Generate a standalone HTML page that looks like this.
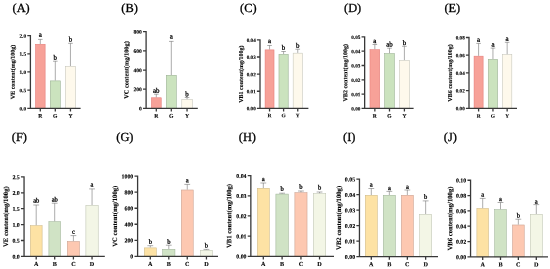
<!DOCTYPE html>
<html><head><meta charset="utf-8"><title>Figure</title>
<style>
html,body{margin:0;padding:0;background:#fff}
svg{display:block}
text{font-family:"Liberation Serif","Times New Roman",serif;fill:#000;text-rendering:geometricPrecision}
.b{font-weight:bold;stroke:#000;stroke-width:0.12px}
.p{stroke:#000;stroke-width:0.3px}
.l{stroke:#000;stroke-width:0.28px}
</style></head>
<body>
<svg width="550" height="269" viewBox="0 0 550 269">
<rect width="550" height="269" fill="#fff"/>
<g id="chartA">
<text class="p" x="12.5" y="12.00" transform="rotate(0.05 12.5 12.00)" font-size="12.4">(A)</text>
<path d="M40.30 44.00V39.40M38.00 39.40H42.60" stroke="#666" stroke-width="0.55" fill="none"/>
<rect x="35.48" y="44.27" width="9.65" height="64.02" fill="#F7A198" stroke="#E47A78" stroke-width="0.55"/>
<text class="l" x="40.30" y="36.80" transform="rotate(0.05 40.30 36.80)" font-size="6.9" text-anchor="middle">a</text>
<path d="M55.30 80.60V61.20M53.00 61.20H57.60" stroke="#666" stroke-width="0.55" fill="none"/>
<rect x="50.27" y="80.88" width="10.05" height="27.43" fill="#CBE3BE" stroke="#98AE92" stroke-width="0.55"/>
<text class="l" x="55.30" y="59.80" transform="rotate(0.05 55.30 59.80)" font-size="6.9" text-anchor="middle">b</text>
<path d="M70.45 66.00V43.30M68.15 43.30H72.75" stroke="#666" stroke-width="0.55" fill="none"/>
<rect x="65.38" y="66.28" width="10.15" height="42.02" fill="#FEF9EC" stroke="#C4C4B8" stroke-width="0.55"/>
<text class="l" x="70.45" y="41.60" transform="rotate(0.05 70.45 41.60)" font-size="6.9" text-anchor="middle">b</text>
<text class="b" x="26.10" y="110.40" transform="rotate(0.05 26.10 110.40)" font-size="5.3" text-anchor="end">0.0</text>
<text class="b" x="26.10" y="92.22" transform="rotate(0.05 26.10 92.22)" font-size="5.3" text-anchor="end">0.5</text>
<text class="b" x="26.10" y="74.05" transform="rotate(0.05 26.10 74.05)" font-size="5.3" text-anchor="end">1.0</text>
<text class="b" x="26.10" y="55.87" transform="rotate(0.05 26.10 55.87)" font-size="5.3" text-anchor="end">1.5</text>
<text class="b" x="26.10" y="37.70" transform="rotate(0.05 26.10 37.70)" font-size="5.3" text-anchor="end">2.0</text>
<text class="b" x="40.30" y="117.80" transform="rotate(0.05 40.30 117.80)" font-size="5.6" text-anchor="middle">R</text>
<text class="b" x="55.30" y="117.80" transform="rotate(0.05 55.30 117.80)" font-size="5.6" text-anchor="middle">G</text>
<text class="b" x="70.45" y="117.80" transform="rotate(0.05 70.45 117.80)" font-size="5.6" text-anchor="middle">Y</text>
<path d="M30.40 34.95V108.95M29.75 108.30H80.60M27.30 108.30H30.40M27.30 90.12H30.40M27.30 71.95H30.40M27.30 53.78H30.40M27.30 35.60H30.40M40.30 108.30V111.40M55.30 108.30V111.40M70.45 108.30V111.40" stroke="#383838" stroke-width="1.3" fill="none"/>
<text class="b" transform="translate(14.70 71.95) rotate(-90.05)" font-size="6" text-anchor="middle">VE content(mg/100g)</text>
</g>
<g id="chartB">
<text class="p" x="121.3" y="12.00" transform="rotate(0.05 121.3 12.00)" font-size="12.4">(B)</text>
<path d="M156.30 97.50V94.20M154.00 94.20H158.60" stroke="#666" stroke-width="0.55" fill="none"/>
<rect x="151.38" y="97.78" width="9.85" height="10.57" fill="#F7A198" stroke="#E47A78" stroke-width="0.55"/>
<text class="l" x="156.30" y="92.70" transform="rotate(0.05 156.30 92.70)" font-size="6.9" text-anchor="middle">ab</text>
<path d="M171.30 75.00V41.40M169.00 41.40H173.60" stroke="#666" stroke-width="0.55" fill="none"/>
<rect x="166.28" y="75.28" width="10.05" height="33.07" fill="#CBE3BE" stroke="#98AE92" stroke-width="0.55"/>
<text class="l" x="171.30" y="38.60" transform="rotate(0.05 171.30 38.60)" font-size="6.9" text-anchor="middle">a</text>
<path d="M187.05 99.40V97.50M184.75 97.50H189.35" stroke="#666" stroke-width="0.55" fill="none"/>
<rect x="181.78" y="99.68" width="10.55" height="8.67" fill="#FEF9EC" stroke="#C4C4B8" stroke-width="0.55"/>
<text class="l" x="187.05" y="96.20" transform="rotate(0.05 187.05 96.20)" font-size="6.9" text-anchor="middle">b</text>
<text class="b" x="141.80" y="110.51" transform="rotate(0.05 141.80 110.51)" font-size="5.5" text-anchor="end">0</text>
<text class="b" x="141.80" y="91.35" transform="rotate(0.05 141.80 91.35)" font-size="5.5" text-anchor="end">200</text>
<text class="b" x="141.80" y="72.19" transform="rotate(0.05 141.80 72.19)" font-size="5.5" text-anchor="end">400</text>
<text class="b" x="141.80" y="53.03" transform="rotate(0.05 141.80 53.03)" font-size="5.5" text-anchor="end">600</text>
<text class="b" x="141.80" y="33.87" transform="rotate(0.05 141.80 33.87)" font-size="5.5" text-anchor="end">800</text>
<text class="b" x="156.30" y="117.80" transform="rotate(0.05 156.30 117.80)" font-size="5.8" text-anchor="middle">R</text>
<text class="b" x="171.30" y="117.80" transform="rotate(0.05 171.30 117.80)" font-size="5.8" text-anchor="middle">G</text>
<text class="b" x="187.05" y="117.80" transform="rotate(0.05 187.05 117.80)" font-size="5.8" text-anchor="middle">Y</text>
<path d="M146.10 31.05V109.00M145.45 108.35H197.80M143.00 108.35H146.10M143.00 89.19H146.10M143.00 70.03H146.10M143.00 50.86H146.10M143.00 31.70H146.10M156.30 108.35V111.45M171.30 108.35V111.45M187.05 108.35V111.45" stroke="#383838" stroke-width="1.3" fill="none"/>
<text class="b" transform="translate(128.50 70.02) rotate(-90.05)" font-size="6.3" text-anchor="middle">VC content(mg/100g)</text>
</g>
<g id="chartC">
<text class="p" x="240" y="12.00" transform="rotate(0.05 240 12.00)" font-size="12.4">(C)</text>
<path d="M269.55 49.60V45.50M267.25 45.50H271.85" stroke="#666" stroke-width="0.55" fill="none"/>
<rect x="265.07" y="49.88" width="8.95" height="58.47" fill="#F7A198" stroke="#E47A78" stroke-width="0.55"/>
<text class="l" x="269.55" y="43.10" transform="rotate(0.05 269.55 43.10)" font-size="6.9" text-anchor="middle">a</text>
<path d="M283.60 54.10V51.50M281.30 51.50H285.90" stroke="#666" stroke-width="0.55" fill="none"/>
<rect x="278.97" y="54.38" width="9.25" height="53.97" fill="#CBE3BE" stroke="#98AE92" stroke-width="0.55"/>
<text class="l" x="283.60" y="49.80" transform="rotate(0.05 283.60 49.80)" font-size="6.9" text-anchor="middle">b</text>
<path d="M297.75 52.90V49.20M295.45 49.20H300.05" stroke="#666" stroke-width="0.55" fill="none"/>
<rect x="293.17" y="53.17" width="9.15" height="55.17" fill="#FEF9EC" stroke="#C4C4B8" stroke-width="0.55"/>
<text class="l" x="297.75" y="47.70" transform="rotate(0.05 297.75 47.70)" font-size="6.9" text-anchor="middle">b</text>
<text class="b" x="255.70" y="110.38" transform="rotate(0.05 255.70 110.38)" font-size="5.1" text-anchor="end">0.00</text>
<text class="b" x="255.70" y="93.27" transform="rotate(0.05 255.70 93.27)" font-size="5.1" text-anchor="end">0.01</text>
<text class="b" x="255.70" y="76.16" transform="rotate(0.05 255.70 76.16)" font-size="5.1" text-anchor="end">0.02</text>
<text class="b" x="255.70" y="59.05" transform="rotate(0.05 255.70 59.05)" font-size="5.1" text-anchor="end">0.03</text>
<text class="b" x="255.70" y="41.93" transform="rotate(0.05 255.70 41.93)" font-size="5.1" text-anchor="end">0.04</text>
<text class="b" x="269.55" y="117.30" transform="rotate(0.05 269.55 117.30)" font-size="5.4" text-anchor="middle">R</text>
<text class="b" x="283.60" y="117.30" transform="rotate(0.05 283.60 117.30)" font-size="5.4" text-anchor="middle">G</text>
<text class="b" x="297.75" y="117.30" transform="rotate(0.05 297.75 117.30)" font-size="5.4" text-anchor="middle">Y</text>
<path d="M260.00 39.25V109.00M259.35 108.35H308.40M256.90 108.35H260.00M256.90 91.24H260.00M256.90 74.12H260.00M256.90 57.01H260.00M256.90 39.90H260.00M269.55 108.35V111.45M283.60 108.35V111.45M297.75 108.35V111.45" stroke="#383838" stroke-width="1.3" fill="none"/>
<text class="b" transform="translate(242.90 74.12) rotate(-90.05)" font-size="6" text-anchor="middle">VB1 content(mg/100g)</text>
</g>
<g id="chartD">
<text class="p" x="344" y="12.00" transform="rotate(0.05 344 12.00)" font-size="12.4">(D)</text>
<path d="M374.85 49.40V44.50M372.55 44.50H377.15" stroke="#666" stroke-width="0.55" fill="none"/>
<rect x="369.97" y="49.67" width="9.75" height="58.78" fill="#F7A198" stroke="#E47A78" stroke-width="0.55"/>
<text class="l" x="374.85" y="43.10" transform="rotate(0.05 374.85 43.10)" font-size="6.9" text-anchor="middle">a</text>
<path d="M389.50 53.30V48.20M387.20 48.20H391.80" stroke="#666" stroke-width="0.55" fill="none"/>
<rect x="384.57" y="53.57" width="9.85" height="54.88" fill="#CBE3BE" stroke="#98AE92" stroke-width="0.55"/>
<text class="l" x="389.50" y="46.50" transform="rotate(0.05 389.50 46.50)" font-size="6.9" text-anchor="middle">ab</text>
<path d="M404.40 60.20V46.30M402.10 46.30H406.70" stroke="#666" stroke-width="0.55" fill="none"/>
<rect x="399.38" y="60.48" width="10.05" height="47.98" fill="#FEF9EC" stroke="#C4C4B8" stroke-width="0.55"/>
<text class="l" x="404.40" y="45.00" transform="rotate(0.05 404.40 45.00)" font-size="6.9" text-anchor="middle">b</text>
<text class="b" x="360.35" y="110.52" transform="rotate(0.05 360.35 110.52)" font-size="5.2" text-anchor="end">0.00</text>
<text class="b" x="360.35" y="96.21" transform="rotate(0.05 360.35 96.21)" font-size="5.2" text-anchor="end">0.01</text>
<text class="b" x="360.35" y="81.90" transform="rotate(0.05 360.35 81.90)" font-size="5.2" text-anchor="end">0.02</text>
<text class="b" x="360.35" y="67.59" transform="rotate(0.05 360.35 67.59)" font-size="5.2" text-anchor="end">0.03</text>
<text class="b" x="360.35" y="53.28" transform="rotate(0.05 360.35 53.28)" font-size="5.2" text-anchor="end">0.04</text>
<text class="b" x="360.35" y="38.97" transform="rotate(0.05 360.35 38.97)" font-size="5.2" text-anchor="end">0.05</text>
<text class="b" x="374.85" y="117.80" transform="rotate(0.05 374.85 117.80)" font-size="5.5" text-anchor="middle">R</text>
<text class="b" x="389.50" y="117.80" transform="rotate(0.05 389.50 117.80)" font-size="5.5" text-anchor="middle">G</text>
<text class="b" x="404.40" y="117.80" transform="rotate(0.05 404.40 117.80)" font-size="5.5" text-anchor="middle">Y</text>
<path d="M364.65 36.25V109.10M364.00 108.45H413.60M361.55 108.45H364.65M361.55 94.14H364.65M361.55 79.83H364.65M361.55 65.52H364.65M361.55 51.21H364.65M361.55 36.90H364.65M374.85 108.45V111.55M389.50 108.45V111.55M404.40 108.45V111.55" stroke="#383838" stroke-width="1.3" fill="none"/>
<text class="b" transform="translate(347.30 72.67) rotate(-90.05)" font-size="6" text-anchor="middle">VB2 content(mg/100g)</text>
</g>
<g id="chartE">
<text class="p" x="444.4" y="12.00" transform="rotate(0.05 444.4 12.00)" font-size="12.4">(E)</text>
<path d="M478.60 55.90V43.40M476.30 43.40H480.90" stroke="#666" stroke-width="0.55" fill="none"/>
<rect x="474.07" y="56.17" width="9.05" height="52.12" fill="#F7A198" stroke="#E47A78" stroke-width="0.55"/>
<text class="l" x="478.60" y="41.70" transform="rotate(0.05 478.60 41.70)" font-size="6.9" text-anchor="middle">a</text>
<path d="M492.95 59.10V48.10M490.65 48.10H495.25" stroke="#666" stroke-width="0.55" fill="none"/>
<rect x="488.27" y="59.38" width="9.35" height="48.92" fill="#CBE3BE" stroke="#98AE92" stroke-width="0.55"/>
<text class="l" x="492.95" y="46.40" transform="rotate(0.05 492.95 46.40)" font-size="6.9" text-anchor="middle">a</text>
<path d="M507.15 54.40V42.30M504.85 42.30H509.45" stroke="#666" stroke-width="0.55" fill="none"/>
<rect x="502.47" y="54.67" width="9.35" height="53.62" fill="#FEF9EC" stroke="#C4C4B8" stroke-width="0.55"/>
<text class="l" x="507.15" y="40.80" transform="rotate(0.05 507.15 40.80)" font-size="6.9" text-anchor="middle">a</text>
<text class="b" x="464.70" y="110.33" transform="rotate(0.05 464.70 110.33)" font-size="5.1" text-anchor="end">0.00</text>
<text class="b" x="464.70" y="92.63" transform="rotate(0.05 464.70 92.63)" font-size="5.1" text-anchor="end">0.02</text>
<text class="b" x="464.70" y="74.93" transform="rotate(0.05 464.70 74.93)" font-size="5.1" text-anchor="end">0.04</text>
<text class="b" x="464.70" y="57.23" transform="rotate(0.05 464.70 57.23)" font-size="5.1" text-anchor="end">0.06</text>
<text class="b" x="464.70" y="39.53" transform="rotate(0.05 464.70 39.53)" font-size="5.1" text-anchor="end">0.08</text>
<text class="b" x="478.60" y="117.80" transform="rotate(0.05 478.60 117.80)" font-size="5.4" text-anchor="middle">R</text>
<text class="b" x="492.95" y="117.80" transform="rotate(0.05 492.95 117.80)" font-size="5.4" text-anchor="middle">G</text>
<text class="b" x="507.15" y="117.80" transform="rotate(0.05 507.15 117.80)" font-size="5.4" text-anchor="middle">Y</text>
<path d="M469.00 36.85V108.95M468.35 108.30H517.00M465.90 108.30H469.00M465.90 90.60H469.00M465.90 72.90H469.00M465.90 55.20H469.00M465.90 37.50H469.00M478.60 108.30V111.40M492.95 108.30V111.40M507.15 108.30V111.40" stroke="#383838" stroke-width="1.3" fill="none"/>
<text class="b" transform="translate(452.00 72.90) rotate(-90.05)" font-size="6" text-anchor="middle">VB6 content(mg/100g)</text>
</g>
<g id="chartF">
<text class="p" x="11.8" y="141.10" transform="rotate(0.05 11.8 141.10)" font-size="12.4">(F)</text>
<path d="M36.20 225.40V205.00M33.30 205.00H39.10" stroke="#666" stroke-width="0.55" fill="none"/>
<rect x="30.27" y="225.68" width="11.85" height="30.72" fill="#FDE2A4" stroke="#CDB888" stroke-width="0.55"/>
<text class="l" x="36.20" y="202.50" transform="rotate(0.05 36.20 202.50)" font-size="6.5" text-anchor="middle">ab</text>
<path d="M54.70 221.40V203.20M51.80 203.20H57.60" stroke="#666" stroke-width="0.55" fill="none"/>
<rect x="48.88" y="221.68" width="11.65" height="34.72" fill="#D0E3C5" stroke="#9FB398" stroke-width="0.55"/>
<text class="l" x="54.70" y="201.50" transform="rotate(0.05 54.70 201.50)" font-size="6.5" text-anchor="middle">ab</text>
<path d="M73.40 241.20V235.60M70.50 235.60H76.30" stroke="#666" stroke-width="0.55" fill="none"/>
<rect x="67.28" y="241.47" width="12.25" height="14.92" fill="#FDC8B1" stroke="#C9A090" stroke-width="0.55"/>
<text class="l" x="73.40" y="233.70" transform="rotate(0.05 73.40 233.70)" font-size="6.5" text-anchor="middle">c</text>
<path d="M92.05 205.10V188.90M89.15 188.90H94.95" stroke="#666" stroke-width="0.55" fill="none"/>
<rect x="85.88" y="205.38" width="12.35" height="51.02" fill="#F3F6E6" stroke="#BFC4B2" stroke-width="0.55"/>
<text class="l" x="92.05" y="186.50" transform="rotate(0.05 92.05 186.50)" font-size="6.5" text-anchor="middle">a</text>
<text class="b" x="19.75" y="258.70" transform="rotate(0.05 19.75 258.70)" font-size="5.9" text-anchor="end">0.0</text>
<text class="b" x="19.75" y="242.80" transform="rotate(0.05 19.75 242.80)" font-size="5.9" text-anchor="end">0.5</text>
<text class="b" x="19.75" y="226.90" transform="rotate(0.05 19.75 226.90)" font-size="5.9" text-anchor="end">1.0</text>
<text class="b" x="19.75" y="211.00" transform="rotate(0.05 19.75 211.00)" font-size="5.9" text-anchor="end">1.5</text>
<text class="b" x="19.75" y="195.10" transform="rotate(0.05 19.75 195.10)" font-size="5.9" text-anchor="end">2.0</text>
<text class="b" x="19.75" y="179.20" transform="rotate(0.05 19.75 179.20)" font-size="5.9" text-anchor="end">2.5</text>
<text class="b" x="36.20" y="265.90" transform="rotate(0.05 36.20 265.90)" font-size="6.2" text-anchor="middle">A</text>
<text class="b" x="54.70" y="265.90" transform="rotate(0.05 54.70 265.90)" font-size="6.2" text-anchor="middle">B</text>
<text class="b" x="73.40" y="265.90" transform="rotate(0.05 73.40 265.90)" font-size="6.2" text-anchor="middle">C</text>
<text class="b" x="92.05" y="265.90" transform="rotate(0.05 92.05 265.90)" font-size="6.2" text-anchor="middle">D</text>
<path d="M24.05 176.25V257.05M23.40 256.40H104.80M20.95 256.40H24.05M20.95 240.50H24.05M20.95 224.60H24.05M20.95 208.70H24.05M20.95 192.80H24.05M20.95 176.90H24.05M36.20 256.40V259.50M54.70 256.40V259.50M73.40 256.40V259.50M92.05 256.40V259.50" stroke="#383838" stroke-width="1.3" fill="none"/>
<text class="b" transform="translate(8.00 216.65) rotate(-90.05)" font-size="6.7" text-anchor="middle">VE content(mg/100g)</text>
</g>
<g id="chartG">
<text class="p" x="116.3" y="141.10" transform="rotate(0.05 116.3 141.10)" font-size="12.4">(G)</text>
<path d="M150.30 247.60V245.70M147.40 245.70H153.20" stroke="#666" stroke-width="0.55" fill="none"/>
<rect x="144.28" y="247.88" width="12.05" height="8.43" fill="#FDE2A4" stroke="#CDB888" stroke-width="0.55"/>
<text class="l" x="150.30" y="243.70" transform="rotate(0.05 150.30 243.70)" font-size="6.5" text-anchor="middle">b</text>
<path d="M168.80 249.00V245.20M165.90 245.20H171.70" stroke="#666" stroke-width="0.55" fill="none"/>
<rect x="162.68" y="249.28" width="12.25" height="7.03" fill="#D0E3C5" stroke="#9FB398" stroke-width="0.55"/>
<text class="l" x="168.80" y="243.70" transform="rotate(0.05 168.80 243.70)" font-size="6.5" text-anchor="middle">b</text>
<path d="M187.25 189.70V184.40M184.35 184.40H190.15" stroke="#666" stroke-width="0.55" fill="none"/>
<rect x="181.28" y="189.97" width="11.95" height="66.33" fill="#FDC8B1" stroke="#C9A090" stroke-width="0.55"/>
<text class="l" x="187.25" y="182.30" transform="rotate(0.05 187.25 182.30)" font-size="6.5" text-anchor="middle">a</text>
<path d="M206.45 250.00V249.40M203.55 249.40H209.35" stroke="#666" stroke-width="0.55" fill="none"/>
<rect x="200.47" y="250.28" width="11.95" height="6.03" fill="#F3F6E6" stroke="#BFC4B2" stroke-width="0.55"/>
<text class="l" x="206.45" y="247.50" transform="rotate(0.05 206.45 247.50)" font-size="6.5" text-anchor="middle">b</text>
<text class="b" x="133.30" y="258.60" transform="rotate(0.05 133.30 258.60)" font-size="5.9" text-anchor="end">0</text>
<text class="b" x="133.30" y="242.58" transform="rotate(0.05 133.30 242.58)" font-size="5.9" text-anchor="end">200</text>
<text class="b" x="133.30" y="226.56" transform="rotate(0.05 133.30 226.56)" font-size="5.9" text-anchor="end">400</text>
<text class="b" x="133.30" y="210.54" transform="rotate(0.05 133.30 210.54)" font-size="5.9" text-anchor="end">600</text>
<text class="b" x="133.30" y="194.52" transform="rotate(0.05 133.30 194.52)" font-size="5.9" text-anchor="end">800</text>
<text class="b" x="133.30" y="178.50" transform="rotate(0.05 133.30 178.50)" font-size="5.9" text-anchor="end">1000</text>
<text class="b" x="150.30" y="265.90" transform="rotate(0.05 150.30 265.90)" font-size="6.2" text-anchor="middle">A</text>
<text class="b" x="168.80" y="265.90" transform="rotate(0.05 168.80 265.90)" font-size="6.2" text-anchor="middle">B</text>
<text class="b" x="187.25" y="265.90" transform="rotate(0.05 187.25 265.90)" font-size="6.2" text-anchor="middle">C</text>
<text class="b" x="206.45" y="265.90" transform="rotate(0.05 206.45 265.90)" font-size="6.2" text-anchor="middle">D</text>
<path d="M137.60 175.55V256.95M136.95 256.30H218.00M134.50 256.30H137.60M134.50 240.28H137.60M134.50 224.26H137.60M134.50 208.24H137.60M134.50 192.22H137.60M134.50 176.20H137.60M150.30 256.30V259.40M168.80 256.30V259.40M187.25 256.30V259.40M206.45 256.30V259.40" stroke="#383838" stroke-width="1.3" fill="none"/>
<text class="b" transform="translate(117.10 216.25) rotate(-90.05)" font-size="6.7" text-anchor="middle">VC content(mg/100g)</text>
</g>
<g id="chartH">
<text class="p" x="238.8" y="141.10" transform="rotate(0.05 238.8 141.10)" font-size="12.4">(H)</text>
<path d="M263.30 188.00V183.00M260.40 183.00H266.20" stroke="#666" stroke-width="0.55" fill="none"/>
<rect x="257.27" y="188.28" width="12.05" height="68.03" fill="#FDE2A4" stroke="#CDB888" stroke-width="0.55"/>
<text class="l" x="263.30" y="180.90" transform="rotate(0.05 263.30 180.90)" font-size="6.5" text-anchor="middle">a</text>
<path d="M282.10 193.80V193.20M279.20 193.20H285.00" stroke="#666" stroke-width="0.55" fill="none"/>
<rect x="275.88" y="194.08" width="12.45" height="62.23" fill="#D0E3C5" stroke="#9FB398" stroke-width="0.55"/>
<text class="l" x="282.10" y="190.70" transform="rotate(0.05 282.10 190.70)" font-size="6.5" text-anchor="middle">b</text>
<path d="M300.95 192.40V191.00M298.05 191.00H303.85" stroke="#666" stroke-width="0.55" fill="none"/>
<rect x="294.88" y="192.68" width="12.15" height="63.63" fill="#FDC8B1" stroke="#C9A090" stroke-width="0.55"/>
<text class="l" x="300.95" y="188.70" transform="rotate(0.05 300.95 188.70)" font-size="6.5" text-anchor="middle">b</text>
<path d="M319.55 193.40V192.00M316.65 192.00H322.45" stroke="#666" stroke-width="0.55" fill="none"/>
<rect x="313.38" y="193.68" width="12.35" height="62.63" fill="#F3F6E6" stroke="#BFC4B2" stroke-width="0.55"/>
<text class="l" x="319.55" y="189.60" transform="rotate(0.05 319.55 189.60)" font-size="6.5" text-anchor="middle">b</text>
<text class="b" x="246.55" y="258.60" transform="rotate(0.05 246.55 258.60)" font-size="5.9" text-anchor="end">0.00</text>
<text class="b" x="246.55" y="238.42" transform="rotate(0.05 246.55 238.42)" font-size="5.9" text-anchor="end">0.01</text>
<text class="b" x="246.55" y="218.25" transform="rotate(0.05 246.55 218.25)" font-size="5.9" text-anchor="end">0.02</text>
<text class="b" x="246.55" y="198.07" transform="rotate(0.05 246.55 198.07)" font-size="5.9" text-anchor="end">0.03</text>
<text class="b" x="246.55" y="177.90" transform="rotate(0.05 246.55 177.90)" font-size="5.9" text-anchor="end">0.04</text>
<text class="b" x="263.30" y="265.90" transform="rotate(0.05 263.30 265.90)" font-size="6.2" text-anchor="middle">A</text>
<text class="b" x="282.10" y="265.90" transform="rotate(0.05 282.10 265.90)" font-size="6.2" text-anchor="middle">B</text>
<text class="b" x="300.95" y="265.90" transform="rotate(0.05 300.95 265.90)" font-size="6.2" text-anchor="middle">C</text>
<text class="b" x="319.55" y="265.90" transform="rotate(0.05 319.55 265.90)" font-size="6.2" text-anchor="middle">D</text>
<path d="M250.85 174.95V256.95M250.20 256.30H334.00M247.75 256.30H250.85M247.75 236.12H250.85M247.75 215.95H250.85M247.75 195.78H250.85M247.75 175.60H250.85M263.30 256.30V259.40M282.10 256.30V259.40M300.95 256.30V259.40M319.55 256.30V259.40" stroke="#383838" stroke-width="1.3" fill="none"/>
<text class="b" transform="translate(231.20 215.95) rotate(-90.05)" font-size="6.7" text-anchor="middle">VB1 content(mg/100g)</text>
</g>
<g id="chartI">
<text class="p" x="343" y="141.10" transform="rotate(0.05 343 141.10)" font-size="12.4">(I)</text>
<path d="M371.30 195.00V188.50M368.40 188.50H374.20" stroke="#666" stroke-width="0.55" fill="none"/>
<rect x="365.27" y="195.28" width="12.05" height="61.33" fill="#FDE2A4" stroke="#CDB888" stroke-width="0.55"/>
<text class="l" x="371.30" y="186.60" transform="rotate(0.05 371.30 186.60)" font-size="6.5" text-anchor="middle">a</text>
<path d="M389.35 195.00V191.40M386.45 191.40H392.25" stroke="#666" stroke-width="0.55" fill="none"/>
<rect x="383.27" y="195.28" width="12.15" height="61.33" fill="#D0E3C5" stroke="#9FB398" stroke-width="0.55"/>
<text class="l" x="389.35" y="190.10" transform="rotate(0.05 389.35 190.10)" font-size="6.5" text-anchor="middle">a</text>
<path d="M407.35 195.00V190.00M404.45 190.00H410.25" stroke="#666" stroke-width="0.55" fill="none"/>
<rect x="401.27" y="195.28" width="12.15" height="61.33" fill="#FDC8B1" stroke="#C9A090" stroke-width="0.55"/>
<text class="l" x="407.35" y="188.80" transform="rotate(0.05 407.35 188.80)" font-size="6.5" text-anchor="middle">a</text>
<path d="M425.65 214.00V200.90M422.75 200.90H428.55" stroke="#666" stroke-width="0.55" fill="none"/>
<rect x="419.67" y="214.28" width="11.95" height="42.33" fill="#F3F6E6" stroke="#BFC4B2" stroke-width="0.55"/>
<text class="l" x="425.65" y="198.70" transform="rotate(0.05 425.65 198.70)" font-size="6.5" text-anchor="middle">b</text>
<text class="b" x="355.15" y="258.90" transform="rotate(0.05 355.15 258.90)" font-size="5.9" text-anchor="end">0.00</text>
<text class="b" x="355.15" y="243.41" transform="rotate(0.05 355.15 243.41)" font-size="5.9" text-anchor="end">0.01</text>
<text class="b" x="355.15" y="227.92" transform="rotate(0.05 355.15 227.92)" font-size="5.9" text-anchor="end">0.02</text>
<text class="b" x="355.15" y="212.43" transform="rotate(0.05 355.15 212.43)" font-size="5.9" text-anchor="end">0.03</text>
<text class="b" x="355.15" y="196.94" transform="rotate(0.05 355.15 196.94)" font-size="5.9" text-anchor="end">0.04</text>
<text class="b" x="355.15" y="181.45" transform="rotate(0.05 355.15 181.45)" font-size="5.9" text-anchor="end">0.05</text>
<text class="b" x="371.30" y="266.20" transform="rotate(0.05 371.30 266.20)" font-size="6.2" text-anchor="middle">A</text>
<text class="b" x="389.35" y="266.20" transform="rotate(0.05 389.35 266.20)" font-size="6.2" text-anchor="middle">B</text>
<text class="b" x="407.35" y="266.20" transform="rotate(0.05 407.35 266.20)" font-size="6.2" text-anchor="middle">C</text>
<text class="b" x="425.65" y="266.20" transform="rotate(0.05 425.65 266.20)" font-size="6.2" text-anchor="middle">D</text>
<path d="M359.45 178.50V257.25M358.80 256.60H438.00M356.35 256.60H359.45M356.35 241.11H359.45M356.35 225.62H359.45M356.35 210.13H359.45M356.35 194.64H359.45M356.35 179.15H359.45M371.30 256.60V259.70M389.35 256.60V259.70M407.35 256.60V259.70M425.65 256.60V259.70" stroke="#383838" stroke-width="1.3" fill="none"/>
<text class="b" transform="translate(341.00 217.88) rotate(-90.05)" font-size="6.7" text-anchor="middle">VB2 content(mg/100g)</text>
</g>
<g id="chartJ">
<text class="p" x="443.8" y="141.10" transform="rotate(0.05 443.8 141.10)" font-size="12.4">(J)</text>
<path d="M482.70 208.20V198.40M479.80 198.40H485.60" stroke="#666" stroke-width="0.55" fill="none"/>
<rect x="476.88" y="208.47" width="11.65" height="48.38" fill="#FDE2A4" stroke="#CDB888" stroke-width="0.55"/>
<text class="l" x="482.70" y="196.50" transform="rotate(0.05 482.70 196.50)" font-size="6.5" text-anchor="middle">a</text>
<path d="M500.50 209.40V202.50M497.60 202.50H503.40" stroke="#666" stroke-width="0.55" fill="none"/>
<rect x="494.67" y="209.68" width="11.65" height="47.18" fill="#D0E3C5" stroke="#9FB398" stroke-width="0.55"/>
<text class="l" x="500.50" y="200.90" transform="rotate(0.05 500.50 200.90)" font-size="6.5" text-anchor="middle">a</text>
<path d="M518.35 224.70V219.20M515.45 219.20H521.25" stroke="#666" stroke-width="0.55" fill="none"/>
<rect x="512.48" y="224.97" width="11.75" height="31.88" fill="#FDC8B1" stroke="#C9A090" stroke-width="0.55"/>
<text class="l" x="518.35" y="217.50" transform="rotate(0.05 518.35 217.50)" font-size="6.5" text-anchor="middle">b</text>
<path d="M536.30 214.00V204.60M533.40 204.60H539.20" stroke="#666" stroke-width="0.55" fill="none"/>
<rect x="530.27" y="214.28" width="12.05" height="42.58" fill="#F3F6E6" stroke="#BFC4B2" stroke-width="0.55"/>
<text class="l" x="536.30" y="203.50" transform="rotate(0.05 536.30 203.50)" font-size="6.5" text-anchor="middle">a</text>
<text class="b" x="466.25" y="259.15" transform="rotate(0.05 466.25 259.15)" font-size="5.9" text-anchor="end">0.00</text>
<text class="b" x="466.25" y="243.83" transform="rotate(0.05 466.25 243.83)" font-size="5.9" text-anchor="end">0.02</text>
<text class="b" x="466.25" y="228.51" transform="rotate(0.05 466.25 228.51)" font-size="5.9" text-anchor="end">0.04</text>
<text class="b" x="466.25" y="213.19" transform="rotate(0.05 466.25 213.19)" font-size="5.9" text-anchor="end">0.06</text>
<text class="b" x="466.25" y="197.87" transform="rotate(0.05 466.25 197.87)" font-size="5.9" text-anchor="end">0.08</text>
<text class="b" x="466.25" y="182.55" transform="rotate(0.05 466.25 182.55)" font-size="5.9" text-anchor="end">0.10</text>
<text class="b" x="482.70" y="266.50" transform="rotate(0.05 482.70 266.50)" font-size="6.2" text-anchor="middle">A</text>
<text class="b" x="500.50" y="266.50" transform="rotate(0.05 500.50 266.50)" font-size="6.2" text-anchor="middle">B</text>
<text class="b" x="518.35" y="266.50" transform="rotate(0.05 518.35 266.50)" font-size="6.2" text-anchor="middle">C</text>
<text class="b" x="536.30" y="266.50" transform="rotate(0.05 536.30 266.50)" font-size="6.2" text-anchor="middle">D</text>
<path d="M470.55 179.60V257.50M469.90 256.85H548.00M467.45 256.85H470.55M467.45 241.53H470.55M467.45 226.21H470.55M467.45 210.89H470.55M467.45 195.57H470.55M467.45 180.25H470.55M482.70 256.85V259.95M500.50 256.85V259.95M518.35 256.85V259.95M536.30 256.85V259.95" stroke="#383838" stroke-width="1.3" fill="none"/>
<text class="b" transform="translate(452.30 218.55) rotate(-90.05)" font-size="6.7" text-anchor="middle">VB6 content(mg/100g)</text>
</g>
</svg>
</body></html>
